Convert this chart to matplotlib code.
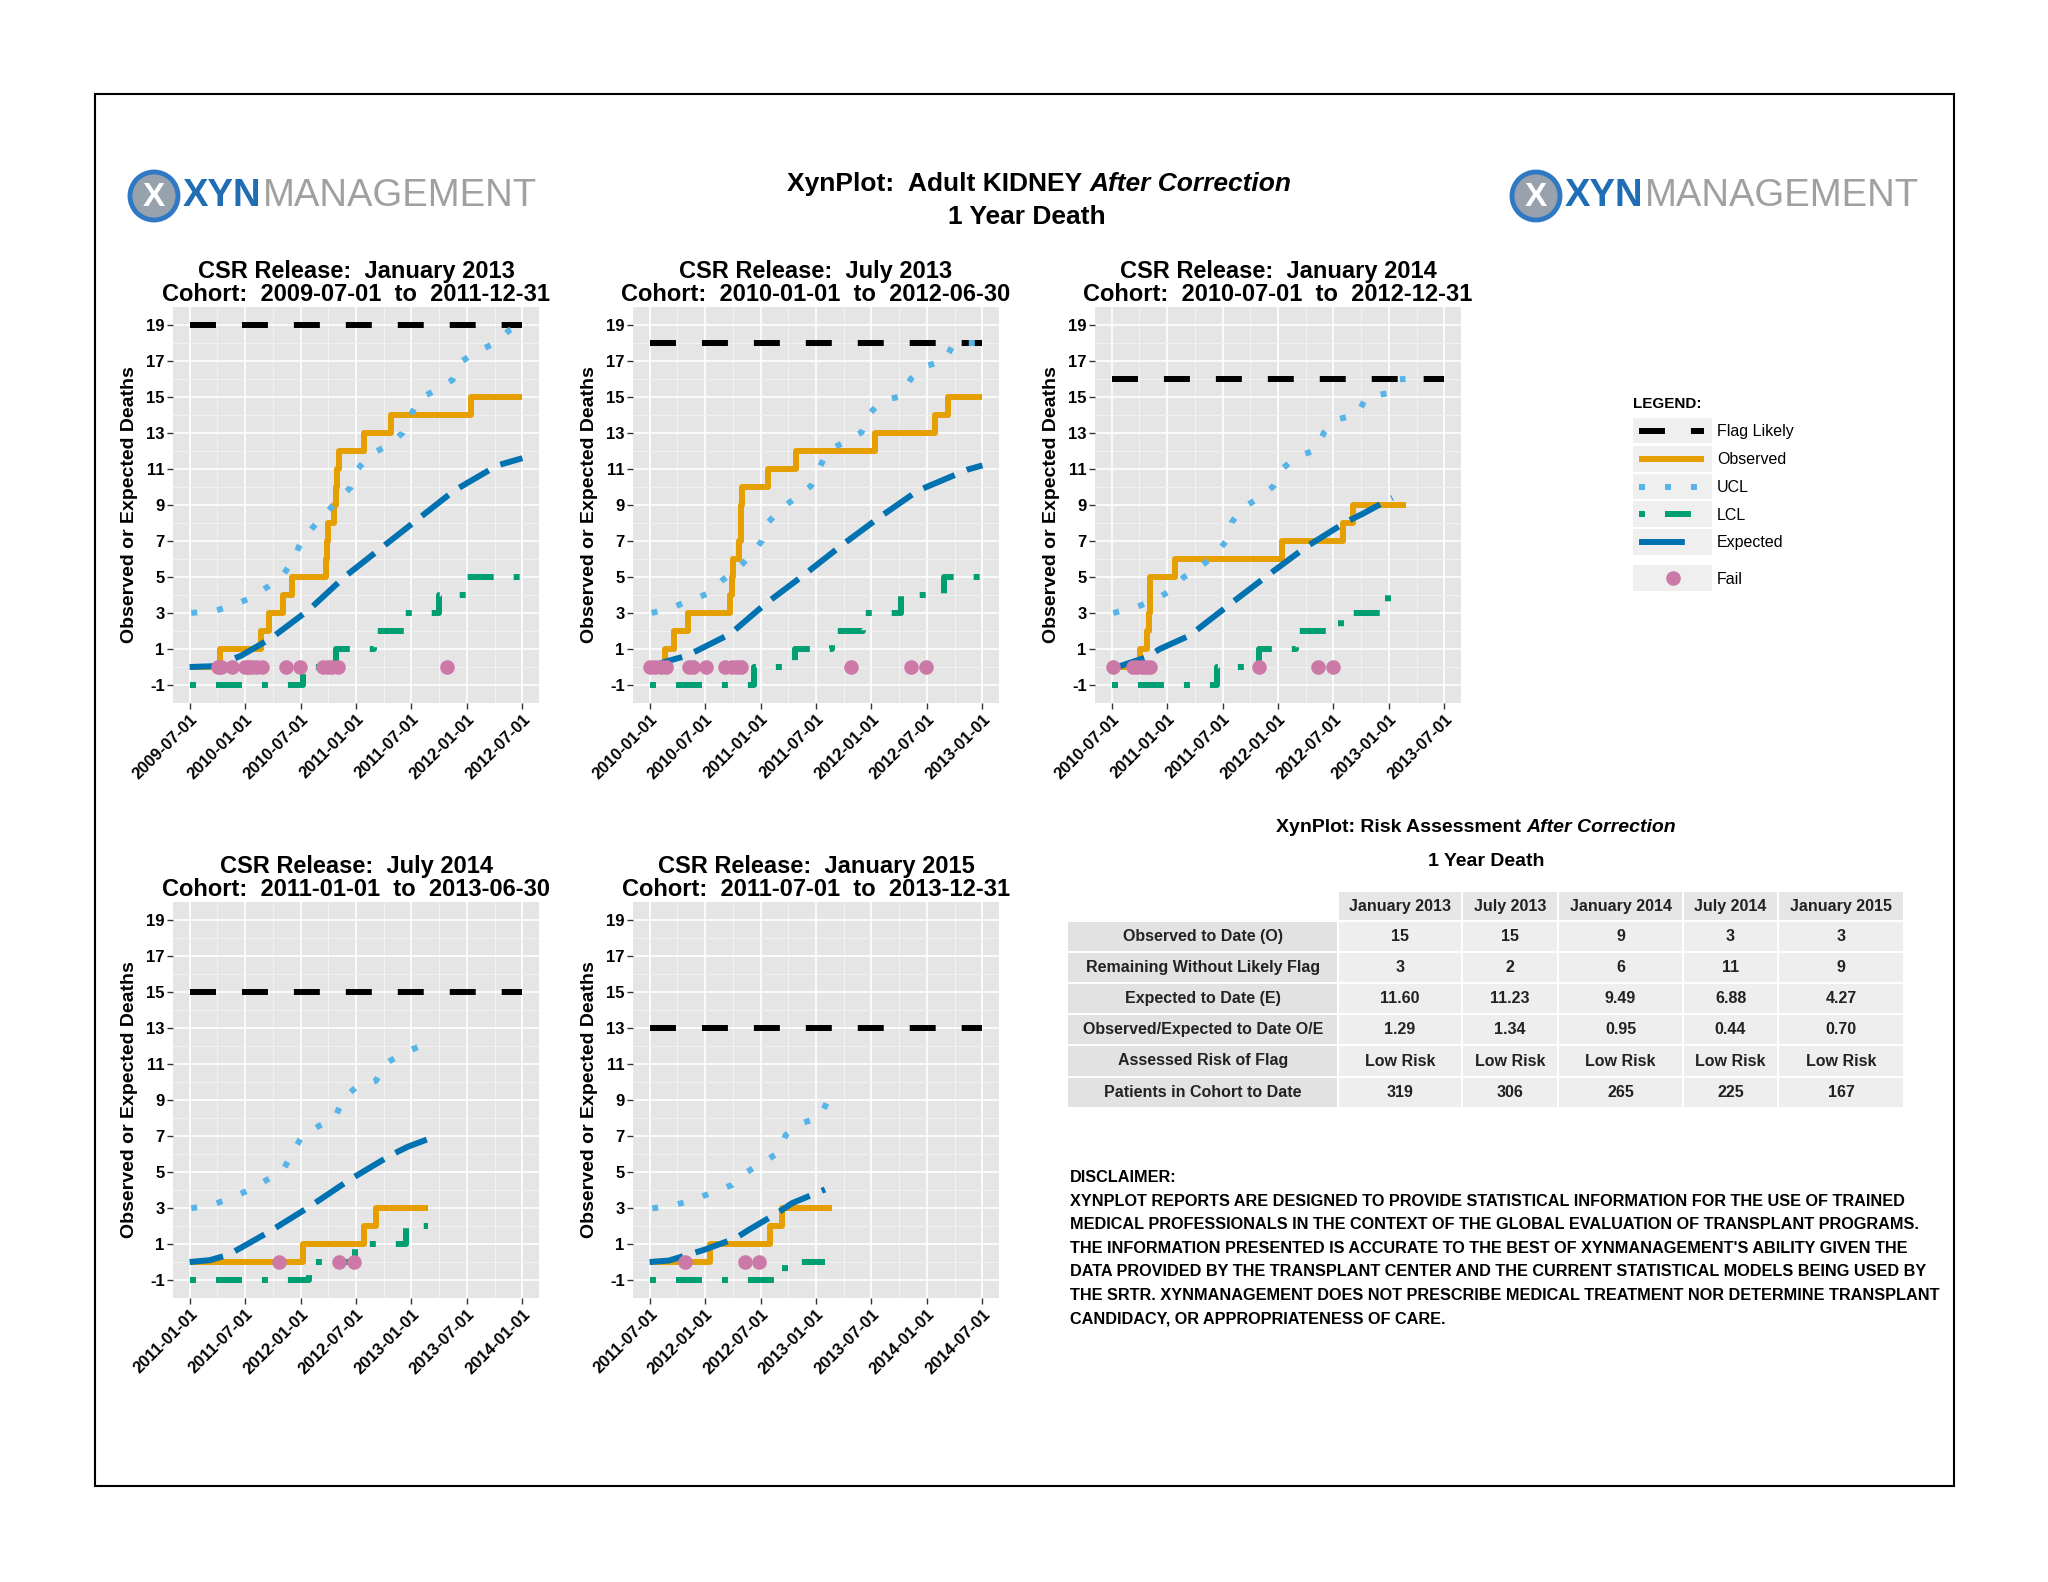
import matplotlib
matplotlib.use('Agg')
import matplotlib.pyplot as plt
from matplotlib.patches import Rectangle, Circle

plt.rcParams['font.family'] = ['Liberation Sans', 'DejaVu Sans']
plt.rcParams['lines.scale_dashes'] = False

W, H = 2048, 1582

# ---- data -------------------------------------------------------------
releases = ['January 2013', 'July 2013', 'January 2014', 'July 2014', 'January 2015']
cohorts = [('2009-07-01', '2011-12-31'), ('2010-01-01', '2012-06-30'),
           ('2010-07-01', '2012-12-31'), ('2011-01-01', '2013-06-30'),
           ('2011-07-01', '2013-12-31')]
axis_start = [2009.5, 2010.0, 2010.5, 2011.0, 2011.5]
flag_likely = [19, 18, 16, 15, 13]

# observed deaths (decimal year, cumulative count), step changes
obs_jan13 = [(2009.5, 0), (2009.77, 1), (2010.145, 2), (2010.22, 3), (2010.346, 4), (2010.424, 5),
             (2010.73, 6), (2010.74, 7), (2010.75, 8), (2010.8, 9), (2010.82, 10), (2010.83, 11),
             (2010.845, 12), (2011.075, 13), (2011.315, 14), (2012.035, 15), (2012.5, 15)]
obs_jul13 = [(2010.0, 0), (2010.138, 1), (2010.219, 2), (2010.347, 3), (2010.728, 4), (2010.743, 5),
             (2010.749, 6), (2010.808, 7), (2010.82, 8), (2010.826, 9), (2010.832, 10), (2011.063, 11),
             (2011.32, 12), (2012.03, 13), (2012.569, 14), (2012.689, 15), (2013.0, 15)]
obs_jan14 = [(2010.5, 0), (2010.754, 1), (2010.82, 2), (2010.838, 3), (2010.844, 4), (2010.85, 5),
             (2011.069, 6), (2012.033, 7), (2012.587, 8), (2012.677, 9), (2013.15, 9)]
obs_jul14 = [(2011.0, 0), (2012.02, 1), (2012.575, 2), (2012.68, 3), (2013.145, 3)]
obs_jan15 = [(2011.5, 0), (2012.048, 1), (2012.587, 2), (2012.692, 3), (2013.141, 3)]

# expected deaths
exp_jan13 = [(2009.5, 0), (2009.74, 0.05), (2009.83, 0.3), (2009.965, 0.63), (2010.235, 1.6),
             (2010.58, 3.2), (2010.895, 5.0), (2011.225, 6.6), (2011.555, 8.2), (2011.885, 9.8),
             (2012.275, 11.2), (2012.5, 11.6)]
exp_jul13 = [(2010.0, 0), (2010.144, 0.3), (2010.308, 0.58), (2010.428, 0.91), (2010.728, 1.84),
             (2011.042, 3.5), (2011.386, 5.09), (2011.731, 6.76), (2012.075, 8.33), (2012.419, 9.8),
             (2012.868, 10.97), (2013.0, 11.2)]
exp_jan14 = [(2010.5, 0), (2010.575, 0.05), (2010.814, 0.54), (2010.934, 1.0), (2011.204, 1.75),
             (2011.548, 3.4), (2011.907, 5.09), (2012.251, 6.66), (2012.611, 8.05), (2012.76, 8.5),
             (2013.03, 9.4)]
exp_jul14 = [(2011.0, 0), (2011.18, 0.1), (2011.345, 0.39), (2011.465, 0.8), (2011.72, 1.69),
             (2012.08, 3.07), (2012.44, 4.56), (2012.815, 5.94), (2012.965, 6.4), (2013.16, 6.85)]
exp_jan15 = [(2011.5, 0), (2011.674, 0.08), (2011.838, 0.39), (2011.988, 0.67), (2012.272, 1.31),
             (2012.392, 1.78), (2012.647, 2.7), (2012.781, 3.26), (2013.081, 4.03)]

# upper control limit
ucl_jan13 = [(2009.515, 3.0), (2009.734, 3.13), (2009.911, 3.46), (2010.07, 3.9), (2010.214, 4.5),
             (2010.34, 5.1), (2010.436, 5.95), (2010.505, 6.97), (2010.61, 7.75), (2010.724, 8.5),
             (2010.835, 9.27), (2010.955, 10.0), (2011.015, 11.0), (2011.129, 11.8), (2011.285, 12.3),
             (2011.42, 13.0), (2011.495, 14.0), (2011.57, 14.9), (2011.726, 15.4), (2011.87, 15.95),
             (2011.945, 16.95), (2012.095, 17.55), (2012.26, 18.0), (2012.38, 18.7), (2012.5, 19.0)]
ucl_jul13 = [(2010.018, 3.0), (2010.21, 3.32), (2010.377, 3.73), (2010.533, 4.1), (2010.659, 4.84),
             (2010.796, 5.46), (2010.907, 6.2), (2011.012, 7.0), (2011.072, 8.05), (2011.186, 8.8),
             (2011.317, 9.4), (2011.455, 10.06), (2011.527, 11.0), (2011.605, 12.04), (2011.754, 12.47),
             (2011.91, 13.03), (2011.976, 14.03), (2012.09, 14.77), (2012.269, 15.05), (2012.353, 15.99),
             (2012.473, 16.7), (2012.659, 17.0), (2012.743, 18.0), (2012.964, 18.0), (2013.0, 18.0)]
ucl_jan14 = [(2010.515, 3.0), (2010.719, 3.32), (2010.874, 3.69), (2011.018, 4.19), (2011.15, 4.99),
             (2011.293, 5.55), (2011.422, 6.16), (2011.533, 7.0), (2011.584, 8.05), (2011.683, 8.85),
             (2011.832, 9.4), (2011.961, 10.06), (2012.042, 11.02), (2012.162, 11.67), (2012.335, 12.04),
             (2012.416, 13.03), (2012.53, 13.75), (2012.716, 14.03), (2012.796, 15.0), (2012.985, 15.2),
             (2013.096, 15.99), (2013.15, 16.0)]
ucl_jul14 = [(2011.015, 2.98), (2011.225, 3.22), (2011.39, 3.59), (2011.555, 4.06), (2011.696, 4.56),
             (2011.84, 5.07), (2011.924, 6.04), (2012.011, 6.96), (2012.155, 7.52), (2012.314, 8.04),
             (2012.38, 9.04), (2012.506, 9.74), (2012.68, 10.07), (2012.77, 11.04), (2012.92, 11.59),
             (2013.091, 12.02), (2013.145, 12.1)]
ucl_jan15 = [(2011.524, 2.98), (2011.728, 3.17), (2011.907, 3.48), (2012.069, 3.87), (2012.243, 4.28),
             (2012.368, 4.96), (2012.512, 5.52), (2012.656, 6.04), (2012.728, 7.06), (2012.865, 7.7),
             (2013.036, 8.04), (2013.111, 9.04), (2013.141, 9.1)]

# lower control limit (step changes)
lcl_jan13 = [(2009.5, -1), (2010.52, 0), (2010.82, 1), (2011.165, 2), (2011.435, 3), (2011.75, 4),
             (2012.005, 5), (2012.5, 5)]
lcl_jul13 = [(2010.0, -1), (2010.937, 0), (2011.311, 1), (2011.641, 2), (2011.925, 3), (2012.269, 4),
             (2012.653, 5), (2013.0, 5)]
lcl_jan14 = [(2010.5, -1), (2011.449, 0), (2011.832, 1), (2012.162, 2), (2012.566, 3), (2012.994, 4),
             (2013.15, 4)]
lcl_jul14 = [(2011.0, -1), (2012.074, 0), (2012.494, 1), (2012.95, 2), (2013.145, 2)]
lcl_jan15 = [(2011.5, -1), (2012.716, 0), (2013.08, 0)]

# failure events (decimal year), drawn at 0
fail_jan13 = [2009.755, 2009.785, 2009.884, 2009.995, 2010.025, 2010.055, 2010.1, 2010.154,
              2010.37, 2010.496, 2010.70, 2010.745, 2010.784, 2010.835, 2011.816]
fail_jul13 = [2010.0, 2010.048, 2010.099, 2010.15, 2010.359, 2010.389, 2010.509, 2010.683,
              2010.743, 2010.787, 2010.826, 2011.82, 2012.353, 2012.494]
fail_jan14 = [2010.515, 2010.689, 2010.731, 2010.772, 2010.814, 2010.85, 2011.826, 2012.365, 2012.497]
fail_jul14 = [2011.81, 2012.35, 2012.485]
fail_jan15 = [2011.817, 2012.356, 2012.482]

# risk table
row_names = ['Observed to Date (O)', 'Remaining Without Likely Flag', 'Expected to Date (E)',
             'Observed/Expected to Date O/E', 'Assessed Risk of Flag', 'Patients in Cohort to Date']
observed_to_date = [15, 15, 9, 3, 3]
remaining_no_flag = [3, 2, 6, 11, 9]
expected_to_date = [11.60, 11.23, 9.49, 6.88, 4.27]
oe_ratio = [1.29, 1.34, 0.95, 0.44, 0.70]
risk_of_flag = ['Low Risk', 'Low Risk', 'Low Risk', 'Low Risk', 'Low Risk']
patients = [319, 306, 265, 225, 167]

disclaimer = [
    'XYNPLOT REPORTS ARE DESIGNED TO PROVIDE STATISTICAL INFORMATION FOR THE USE OF TRAINED',
    'MEDICAL PROFESSIONALS IN THE CONTEXT OF THE GLOBAL EVALUATION OF TRANSPLANT PROGRAMS.',
    "THE INFORMATION PRESENTED IS ACCURATE TO THE BEST OF XYNMANAGEMENT'S ABILITY GIVEN THE",
    'DATA PROVIDED BY THE TRANSPLANT CENTER AND THE CURRENT STATISTICAL MODELS BEING USED BY',
    'THE SRTR. XYNMANAGEMENT DOES NOT PRESCRIBE MEDICAL TREATMENT NOR DETERMINE TRANSPLANT',
    'CANDIDACY, OR APPROPRIATENESS OF CARE.',
]

# ---- styles -----------------------------------------------------------
LW = 4.3
C_FLAG, C_OBS, C_UCL, C_LCL, C_EXP, C_FAIL = 'black', '#E69F00', '#56B4E9', '#009E73', '#0072B2', '#CC79A7'
D_FLAG = (18.7, 18.7)
D_UCL = (4.3, 14.4)
D_LCL = (4.3, 14.4, 18.7, 14.4)
D_EXP = (24.5, 9.4)

fig = plt.figure(figsize=(W / 100, H / 100), dpi=100, facecolor='white')
ov = fig.add_axes([0, 0, 1, 1])
ov.set_xlim(0, W)
ov.set_ylim(H, 0)
ov.axis('off')
rend = fig.canvas.get_renderer()


def two_part(xc, y, a, b, size):
    t1 = ov.text(0, y, a, fontsize=size, fontweight='bold', va='center', ha='left')
    t2 = ov.text(0, y, b, fontsize=size, fontweight='bold', style='italic', va='center', ha='left')
    w1 = t1.get_window_extent(rend).width
    w2 = t2.get_window_extent(rend).width
    gap = 0.28 * size * 100 / 72
    x0 = xc - (w1 + gap + w2) / 2
    t1.set_x(x0)
    t2.set_x(x0 + w1 + gap)


def logo(cx, cy):
    ov.add_patch(Circle((cx, cy), 24, facecolor='#98A2AD', edgecolor='#2F78C4', lw=3.5))
    ov.text(cx, cy + 1, 'X', fontsize=24, color='white', fontweight='bold', ha='center', va='center')
    t = ov.text(cx + 29, cy, 'XYN', fontsize=27.5, fontweight='bold', color='#1F6DB5', ha='left', va='center')
    w = t.get_window_extent(rend).width
    ov.text(cx + 30 + w, cy, 'MANAGEMENT', fontsize=27.5, color='#A0A0A0', ha='left', va='center')


# border, logos, titles
ov.add_patch(Rectangle((95, 94), 1859, 1392, fill=False, edgecolor='black', lw=1.5))
logo(154, 196)
logo(1536, 196)
two_part(1039, 184, 'XynPlot:  Adult KIDNEY', 'After Correction', 19)
ov.text(1027, 217, '1 Year Death', fontsize=19, fontweight='bold', ha='center', va='center')

# ---- panels ---------------------------------------------------------------
panel_boxes = [(173, 307), (633, 307), (1095, 307), (173, 902), (633, 902)]
observed = [obs_jan13, obs_jul13, obs_jan14, obs_jul14, obs_jan15]
expected = [exp_jan13, exp_jul13, exp_jan14, exp_jul14, exp_jan15]
ucl = [ucl_jan13, ucl_jul13, ucl_jan14, ucl_jul14, ucl_jan15]
lcl = [lcl_jan13, lcl_jul13, lcl_jan14, lcl_jul14, lcl_jan15]
fails = [fail_jan13, fail_jul13, fail_jan14, fail_jul14, fail_jan15]

for i, (left, top) in enumerate(panel_boxes):
    pw, ph = 366, 396
    ax = fig.add_axes([left / W, 1 - (top + ph) / H, pw / W, ph / H])
    ax.set_facecolor('#E5E5E5')
    t0 = axis_start[i]
    t1 = t0 + 3.0

    ax.plot([t0, t1], [flag_likely[i]] * 2, color=C_FLAG, lw=LW, dashes=D_FLAG, dash_capstyle='butt')
    ot, ov_ = zip(*observed[i])
    ax.step(ot, ov_, where='post', color=C_OBS, lw=LW, solid_capstyle='butt')
    ut, uv = zip(*ucl[i])
    ax.plot(ut, uv, color=C_UCL, lw=LW, dashes=D_UCL, dash_capstyle='butt')
    lt, lv = zip(*lcl[i])
    ax.step(lt, lv, where='post', color=C_LCL, lw=LW, dashes=D_LCL, dash_capstyle='butt')
    et, ev = zip(*expected[i])
    ax.plot(et, ev, color=C_EXP, lw=LW, dashes=D_EXP, dash_capstyle='butt')
    ax.plot(fails[i], [0] * len(fails[i]), 'o', color=C_FAIL, ms=10.5, mew=0)

    ticks = [t0 + 0.5 * k for k in range(7)]
    labels = ['%d-%s-01' % (int(t), '07' if t % 1 else '01') for t in ticks]
    ax.set_xticks(ticks)
    ax.set_xticklabels(labels, rotation=45, ha='right', va='top', rotation_mode='anchor',
                       fontsize=12, fontweight='bold')
    ax.set_xticks([t + 0.25 for t in ticks[:-1]], minor=True)
    ax.set_yticks(range(-1, 20, 2))
    ax.set_yticklabels([str(v) for v in range(-1, 20, 2)], fontsize=12, fontweight='bold')
    ax.set_yticks(range(0, 20, 2), minor=True)
    ax.set_xlim(t0 - 0.15, t1 + 0.15)
    ax.set_ylim(-2, 20)
    ax.grid(which='major', color='white', lw=1.2)
    ax.grid(which='minor', color='#F2F2F2', lw=0.7)
    ax.set_axisbelow(True)
    ax.tick_params(which='major', length=4, width=1, color='#333333', pad=2, labelcolor='black')
    ax.tick_params(which='minor', length=0)
    for s in ax.spines.values():
        s.set_visible(False)
    ax.set_title('CSR Release:  %s\nCohort:  %s  to  %s' % (releases[i], cohorts[i][0], cohorts[i][1]),
                 fontsize=17, fontweight='bold', linespacing=1.05, pad=4)
    ax.set_ylabel('Observed or Expected Deaths', fontsize=14, fontweight='bold', va='center')
    ax.yaxis.set_label_coords(-44 / pw, 0.5)

# ---- legend -----------------------------------------------------------------
ov.text(1633, 404, 'LEGEND:', fontsize=11, fontweight='bold', ha='left', va='center')
key_rows = [('Flag Likely', 418, 443), ('Observed', 446, 472), ('UCL', 474, 499),
            ('LCL', 501, 527), ('Expected', 529, 555), ('Fail', 565, 591)]
for name, y0, y1 in key_rows:
    ov.add_patch(Rectangle((1633, y0), 79, y1 - y0, facecolor='#EFEFEF', edgecolor='none'))
    ov.text(1717, (y0 + y1) / 2 + 1, name, fontsize=11.5, ha='left', va='center')
yc = [(a + b) / 2 for _, a, b in key_rows]
ov.plot([1639, 1704], [yc[0]] * 2, color=C_FLAG, lw=LW, dashes=D_FLAG, dash_capstyle='butt')
ov.plot([1639, 1704], [yc[1]] * 2, color=C_OBS, lw=LW, solid_capstyle='butt')
ov.plot([1639, 1704], [yc[2]] * 2, color=C_UCL, lw=LW, dashes=D_UCL, dash_capstyle='butt')
ov.plot([1639, 1704], [yc[3]] * 2, color=C_LCL, lw=LW, dashes=D_LCL, dash_capstyle='butt')
ov.plot([1639, 1704], [yc[4]] * 2, color=C_EXP, lw=LW, dashes=(33, 14), dash_capstyle='butt')
ov.plot([1673], [yc[5]], 'o', color=C_FAIL, ms=10.5, mew=0)

# ---- risk table ---------------------------------------------------------------
two_part(1476, 828, 'XynPlot: Risk Assessment', 'After Correction', 14)
ov.text(1486, 862, '1 Year Death', fontsize=14, fontweight='bold', ha='center', va='center')
col_edges = [1068, 1338, 1462, 1558, 1683, 1778, 1904]
row_edges = [892, 921, 952, 983, 1014, 1045, 1077, 1108]
cells = [[str(v) for v in observed_to_date],
         [str(v) for v in remaining_no_flag],
         ['%.2f' % v for v in expected_to_date],
         ['%.2f' % v for v in oe_ratio],
         risk_of_flag,
         [str(v) for v in patients]]
for c in range(5):
    x0, x1 = col_edges[c + 1], col_edges[c + 2]
    ov.add_patch(Rectangle((x0 + 1, row_edges[0]), x1 - x0 - 2, row_edges[1] - row_edges[0] - 1,
                           facecolor='#E6E6E6', edgecolor='none'))
    ov.text((x0 + x1) / 2, (row_edges[0] + row_edges[1]) / 2, releases[c], fontsize=11.5,
            fontweight='bold', color='#222222', ha='center', va='center')
for r in range(6):
    y0, y1 = row_edges[r + 1], row_edges[r + 2]
    ov.add_patch(Rectangle((col_edges[0], y0 + 1), col_edges[1] - col_edges[0] - 1, y1 - y0 - 2,
                           facecolor='#E2E2E2', edgecolor='none'))
    ov.text((col_edges[0] + col_edges[1]) / 2, (y0 + y1) / 2, row_names[r], fontsize=11.5,
            fontweight='bold', color='#222222', ha='center', va='center')
    for c in range(5):
        x0, x1 = col_edges[c + 1], col_edges[c + 2]
        ov.add_patch(Rectangle((x0 + 1, y0 + 1), x1 - x0 - 2, y1 - y0 - 2,
                               facecolor='#EEEEEE', edgecolor='none'))
        ov.text((x0 + x1) / 2, (y0 + y1) / 2, cells[r][c], fontsize=11.5,
                fontweight='bold', color='#222222', ha='center', va='center')

# ---- disclaimer ---------------------------------------------------------------
ov.text(1070, 1178, 'DISCLAIMER:', fontsize=11.7, fontweight='bold', ha='left', va='center')
for k, line in enumerate(disclaimer):
    ov.text(1070, 1201 + 23.6 * k, line, fontsize=11.7, fontweight='bold', ha='left', va='center')

fig.savefig('out.png', dpi=100, facecolor='white')
